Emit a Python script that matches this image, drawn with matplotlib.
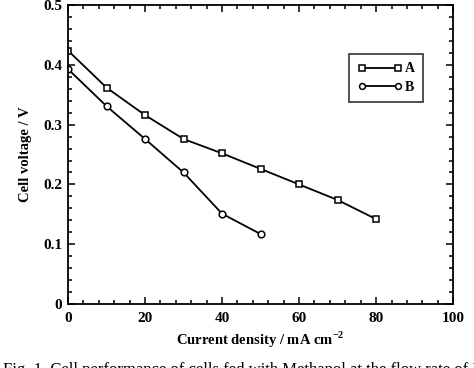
import numpy as np
import matplotlib
matplotlib.use("Agg")
import matplotlib.pyplot as plt
from matplotlib.ticker import MultipleLocator

# current density (mA cm-2) and cell voltage (V)
current_a = [0, 10, 20, 30, 40, 50, 60, 70, 80]
voltage_a = [0.424, 0.362, 0.316, 0.276, 0.252, 0.226, 0.200, 0.174, 0.142]
current_b = [0, 10, 20, 30, 40, 50]
voltage_b = [0.393, 0.331, 0.276, 0.220, 0.151, 0.117]

plt.rcParams['font.family'] = ['Liberation Serif', 'DejaVu Serif']
plt.rcParams['mathtext.fontset'] = 'custom'
plt.rcParams['mathtext.bf'] = 'Liberation Serif:bold'

fig = plt.figure(figsize=(4.74, 3.68), dpi=100)
ax = fig.add_axes([0.1435, 0.174, 0.8125, 0.812])

ax.plot(current_a, voltage_a, color='black', lw=1.3, marker='s', ms=4.8,
        mfc='white', mec='black', mew=1.1, label='A')
ax.plot(current_b, voltage_b, color='black', lw=1.3, marker='o', ms=4.8,
        mfc='white', mec='black', mew=1.1, label='B')

ax.set_xlim(0, 100)
ax.set_ylim(0, 0.5)
ax.xaxis.set_minor_locator(MultipleLocator(4))
ax.yaxis.set_minor_locator(MultipleLocator(0.02))
ax.set_xticks([0, 20, 40, 60, 80, 100])
ax.set_xticklabels(['0', '20', '40', '60', '80', '100'])
ax.set_yticks([0, 0.1, 0.2, 0.3, 0.4, 0.5])
ax.set_yticklabels(['0', '0.1', '0.2', '0.3', '0.4', '0.5'])
ax.tick_params(which='both', direction='in', top=True, right=True, width=1.1)
ax.tick_params(which='major', length=5, labelsize=11)
ax.tick_params(which='minor', length=3)
ax.tick_params(axis='x', which='major', pad=6)
ax.tick_params(axis='y', which='major', pad=4)
for lab in ax.get_xticklabels() + ax.get_yticklabels():
    lab.set_fontweight('bold')
for sp in ax.spines.values():
    sp.set_linewidth(1.3)

ax.set_xlabel(r'Current density / mA cm$^{\mathbf{-2}}$', fontsize=10.5,
              fontweight='bold', labelpad=3)
ax.set_ylabel('Cell voltage / V', fontsize=10.5, fontweight='bold', labelpad=8)

leg = ax.legend(loc='upper left', bbox_to_anchor=(0.730, 0.836), borderaxespad=0,
                numpoints=2, frameon=True, fancybox=False, edgecolor='black',
                handlelength=3.2, handletextpad=0.2, borderpad=0.6,
                labelspacing=0.4, prop={'weight': 'bold', 'size': 10})
leg.get_frame().set_linewidth(1.2)
for h in leg.legend_handles:
    h.set_markersize(4.2)

# figure caption, cut off at the bottom edge as in the source
fig.text(0.006, 0.0165, 'Fig. 1. Cell performance of cells fed with Methanol at the flow rate of I',
         fontsize=12, va='top', ha='left')

fig.savefig('out.png', dpi=100)
